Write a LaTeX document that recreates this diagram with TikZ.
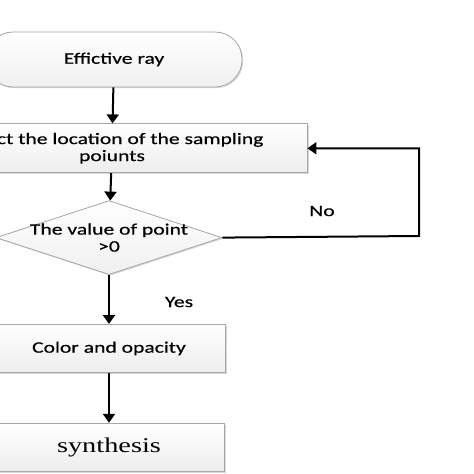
\documentclass[tikz,border=0pt]{standalone}
\usepackage{fontspec}
\usepackage{tikz}
\usetikzlibrary{arrows.meta,positioning,shapes.geometric,shadows}
\newfontfamily\flowfont[FakeStretch=1.35,FakeBold=0.5]{Carlito}
\newfontfamily\flowserif[FakeStretch=1.35]{Liberation Serif}

\begin{document}
\begin{tikzpicture}[
      x=1pt, y=-1pt,
      node distance=36pt,
      txt/.style={font=\flowfont\fontsize{16}{17}\selectfont, align=center},
      startbox/.style={rectangle, rounded corners=27pt, draw=gray!70, line width=0.8pt,
                       top color=white, bottom color=gray!12, minimum width=256pt,
                       minimum height=55pt, inner sep=0pt, txt,
                       drop shadow={shadow xshift=1.2pt, shadow yshift=-1.2pt, fill=gray!60}},
      procbox/.style={rectangle, draw=gray!70, line width=0.8pt,
                      top color=white, bottom color=gray!14, minimum height=48pt,
                      inner sep=0pt, txt,
                      drop shadow={shadow xshift=1.5pt, shadow yshift=-1.5pt, fill=gray!60}},
      decision/.style={diamond, draw=gray!70, line width=0.8pt,
                       top color=white, bottom color=gray!12, minimum width=226pt,
                       minimum height=74pt, inner sep=0pt,
                       drop shadow={shadow xshift=1.2pt, shadow yshift=-1.2pt, fill=gray!60}},
      arr/.style={-{Triangle[length=9pt,width=12pt]}, line width=2pt}
    ]
    \useasboundingbox (0,0) rectangle (474,474);
    \node[startbox] (ray) at (114,59.5) {Effictive ray};
    \node[procbox, minimum width=390pt, minimum height=49pt, below=36pt of ray, xshift=-2pt]
         (sel) {Select the location of the sampling\\poiunts};
    \node[decision, below=27pt of sel, xshift=-3pt,
          label={[txt]center:The value of point\\>0}] (val) {};
    \node[procbox, minimum width=232pt, below=49pt of val] (col) {Color and opacity};
    \node[procbox, minimum width=230pt, below=50pt of col,
          font=\flowserif\fontsize{21}{23}\selectfont] (syn) {synthesis};
    \node[txt] (no) at (322,211) {No};
    \node[txt] (yes) at (179,302) {Yes};
    \coordinate (back) at (419,236);
    \draw[arr] (ray) -- (sel);
    \draw[arr] (sel) -- (val);
    \draw[arr] (val) -- (col);
    \draw[arr] (col) -- (syn);
    \draw[arr] (val.east) -- (back) |- (sel.east);
  \end{tikzpicture}
\end{document}
